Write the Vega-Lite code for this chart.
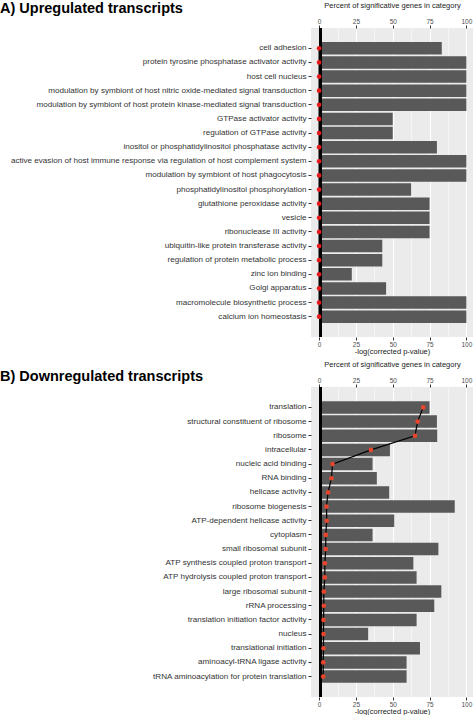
{
  "$schema": "https://vega.github.io/schema/vega-lite/v6.json",
  "padding": 0,
  "background": "white",
  "spacing": 5,
  "config": {
    "font": "Liberation Sans",
    "view": {"fill": "#EBEBEB", "stroke": null},
    "axis": {
      "domain": false,
      "tickColor": "#333333",
      "tickSize": 3,
      "labelColor": "#4D4D4D",
      "labelFont": "Liberation Sans",
      "titleFont": "Liberation Sans",
      "titleFontWeight": "normal",
      "titleColor": "#222222",
      "gridColor": "#FFFFFF"
    }
  },
  "datasets": {
    "up": [
      {"term": "cell adhesion", "pct": 83.3, "logp": 0},
      {"term": "protein tyrosine phosphatase activator activity", "pct": 100, "logp": 0},
      {"term": "host cell nucleus", "pct": 100, "logp": 0},
      {"term": "modulation by symbiont of host nitric oxide-mediated signal transduction", "pct": 100, "logp": 0},
      {"term": "modulation by symbiont of host protein kinase-mediated signal transduction", "pct": 100, "logp": 0},
      {"term": "GTPase activator activity", "pct": 50, "logp": 0},
      {"term": "regulation of GTPase activity", "pct": 50, "logp": 0},
      {"term": "inositol or phosphatidylinositol phosphatase activity", "pct": 80, "logp": 0},
      {"term": "active evasion of host immune response via regulation of host complement system", "pct": 100, "logp": 0},
      {"term": "modulation by symbiont of host phagocytosis", "pct": 100, "logp": 0},
      {"term": "phosphatidylinositol phosphorylation", "pct": 62.5, "logp": 0},
      {"term": "glutathione peroxidase activity", "pct": 75, "logp": 0},
      {"term": "vesicle", "pct": 75, "logp": 0},
      {"term": "ribonuclease III activity", "pct": 75, "logp": 0},
      {"term": "ubiquitin-like protein transferase activity", "pct": 42.9, "logp": 0},
      {"term": "regulation of protein metabolic process", "pct": 42.9, "logp": 0},
      {"term": "zinc ion binding", "pct": 22.2, "logp": 0},
      {"term": "Golgi apparatus", "pct": 45.5, "logp": 0},
      {"term": "macromolecule biosynthetic process", "pct": 100, "logp": 0},
      {"term": "calcium ion homeostasis", "pct": 100, "logp": 0}
    ],
    "down": [
      {"term": "translation", "pct": 75, "logp": 70.7},
      {"term": "structural constituent of ribosome", "pct": 80, "logp": 66.9},
      {"term": "ribosome", "pct": 80.2, "logp": 65.1},
      {"term": "intracellular", "pct": 48.1, "logp": 35.2},
      {"term": "nucleic acid binding", "pct": 36.3, "logp": 9.1},
      {"term": "RNA binding", "pct": 39.2, "logp": 8.4},
      {"term": "helicase activity", "pct": 47.6, "logp": 6.1},
      {"term": "ribosome biogenesis", "pct": 92.1, "logp": 5.0},
      {"term": "ATP-dependent helicase activity", "pct": 51, "logp": 5.2},
      {"term": "cytoplasm", "pct": 36.3, "logp": 4.5},
      {"term": "small ribosomal subunit", "pct": 81, "logp": 4.5},
      {"term": "ATP synthesis coupled proton transport", "pct": 64, "logp": 3.9},
      {"term": "ATP hydrolysis coupled proton transport", "pct": 66.2, "logp": 3.9},
      {"term": "large ribosomal subunit", "pct": 83, "logp": 3.2},
      {"term": "rRNA processing", "pct": 78.2, "logp": 3.2},
      {"term": "translation initiation factor activity", "pct": 66.2, "logp": 3.0},
      {"term": "nucleus", "pct": 33.3, "logp": 3.0},
      {"term": "translational initiation", "pct": 68.5, "logp": 3.0},
      {"term": "aminoacyl-tRNA ligase activity", "pct": 59.4, "logp": 2.8},
      {"term": "tRNA aminoacylation for protein translation", "pct": 59.4, "logp": 2.8}
    ]
  },
  "vconcat": [
    {
      "title": {"text": "A) Upregulated transcripts", "anchor": "start", "frame": "group", "offset": -15, "dx": -311, "fontSize": 14.5, "fontWeight": "bold", "color": "#000000", "font": "Liberation Sans"},
      "width": 162,
      "height": 309,
      "data": {"name": "up"},
      "resolve": {"axis": {"x": "independent"}},
      "layer": [
        {
          "mark": {"type": "bar", "color": "#595959"},
          "encoding": {
            "y": {"field": "term", "type": "nominal", "sort": null, "scale": {"paddingInner": 0.12, "paddingOuter": 1.05}, "axis": {"title": null, "labelFontSize": 8.1, "labelColor": "#333333", "labelPadding": 2, "labelLimit": 400, "gridWidth": 1}},
            "x": {"field": "pct", "type": "quantitative", "scale": {"domain": [-5.5, 104.5], "nice": false, "zero": false}, "axis": {"orient": "top", "title": "Percent of significative genes in category", "values": [0, 25, 50, 75, 100], "labelFontSize": 6.5, "titleFontSize": 7.5, "labelPadding": 1, "titlePadding": 9, "gridWidth": 1}}
          }
        },
        {
          "mark": {"type": "rule", "color": "black", "strokeWidth": 1.5},
          "encoding": {
            "x": {"datum": 1, "type": "quantitative", "scale": {"domain": [-5.5, 104.5], "nice": false, "zero": false}, "axis": {"orient": "top", "values": [12.5, 37.5, 62.5, 87.5], "labels": false, "ticks": false, "title": null, "grid": true, "gridWidth": 0.5}}
          }
        },
        {
          "mark": {"type": "line", "color": "black", "strokeWidth": 1.2},
          "encoding": {
            "y": {"field": "term", "type": "nominal", "sort": null, "scale": {"paddingInner": 0.12, "paddingOuter": 1.05}},
            "x": {"field": "logp", "type": "quantitative", "scale": {"domain": [-5.5, 104.5], "nice": false, "zero": false}, "axis": {"orient": "bottom", "title": "-log(corrected p-value)", "values": [0, 25, 50, 75, 100], "grid": false, "labelFontSize": 6.5, "titleFontSize": 7.5, "labelPadding": 1, "titlePadding": 0}}
          }
        },
        {
          "mark": {"type": "point", "filled": true, "color": "#E41A1C", "size": 22, "opacity": 1},
          "encoding": {
            "y": {"field": "term", "type": "nominal", "sort": null, "scale": {"paddingInner": 0.12, "paddingOuter": 1.05}},
            "x": {"field": "logp", "type": "quantitative", "scale": {"domain": [-5.5, 104.5], "nice": false, "zero": false}, "axis": null}
          }
        }
      ]
    },
    {
      "title": {"text": "B) Downregulated transcripts", "anchor": "start", "frame": "group", "offset": -24, "dx": -311, "fontSize": 14.5, "fontWeight": "bold", "color": "#000000", "font": "Liberation Sans"},
      "width": 162,
      "height": 310,
      "data": {"name": "down"},
      "resolve": {"axis": {"x": "independent"}},
      "layer": [
        {
          "mark": {"type": "bar", "color": "#595959"},
          "encoding": {
            "y": {"field": "term", "type": "nominal", "sort": null, "scale": {"paddingInner": 0.12, "paddingOuter": 1.05}, "axis": {"title": null, "labelFontSize": 8.1, "labelColor": "#333333", "labelPadding": 2, "labelLimit": 400, "gridWidth": 1}},
            "x": {"field": "pct", "type": "quantitative", "scale": {"domain": [-5.5, 104.5], "nice": false, "zero": false}, "axis": {"orient": "top", "title": "Percent of significative genes in category", "values": [0, 25, 50, 75, 100], "labelFontSize": 6.5, "titleFontSize": 7.5, "labelPadding": 1, "titlePadding": 9, "gridWidth": 1}}
          }
        },
        {
          "mark": {"type": "rule", "color": "black", "strokeWidth": 1.5},
          "encoding": {
            "x": {"datum": 1, "type": "quantitative", "scale": {"domain": [-5.5, 104.5], "nice": false, "zero": false}, "axis": {"orient": "top", "values": [12.5, 37.5, 62.5, 87.5], "labels": false, "ticks": false, "title": null, "grid": true, "gridWidth": 0.5}}
          }
        },
        {
          "mark": {"type": "line", "color": "black", "strokeWidth": 1.2},
          "encoding": {
            "y": {"field": "term", "type": "nominal", "sort": null, "scale": {"paddingInner": 0.12, "paddingOuter": 1.05}},
            "x": {"field": "logp", "type": "quantitative", "scale": {"domain": [-5.5, 104.5], "nice": false, "zero": false}, "axis": {"orient": "bottom", "title": "-log(corrected p-value)", "values": [0, 25, 50, 75, 100], "grid": false, "labelFontSize": 6.5, "titleFontSize": 7.5, "labelPadding": 1, "titlePadding": 0}}
          }
        },
        {
          "mark": {"type": "point", "filled": true, "color": "#E8452C", "size": 22, "opacity": 1},
          "encoding": {
            "y": {"field": "term", "type": "nominal", "sort": null, "scale": {"paddingInner": 0.12, "paddingOuter": 1.05}},
            "x": {"field": "logp", "type": "quantitative", "scale": {"domain": [-5.5, 104.5], "nice": false, "zero": false}, "axis": null}
          }
        }
      ]
    }
  ]
}
